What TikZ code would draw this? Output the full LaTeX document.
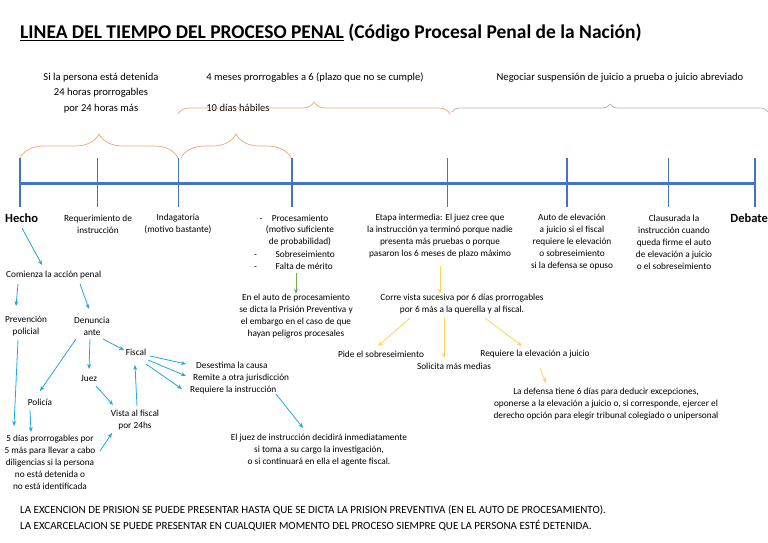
\documentclass[tikz,border=0pt]{standalone}
\usepackage{fontspec}
\setmainfont{Carlito}
\usetikzlibrary{decorations.pathreplacing,arrows.meta}
\definecolor{tl}{HTML}{4472C4}
\definecolor{ar}{HTML}{1FA7E0}
\definecolor{ob}{HTML}{F4A46E}
\definecolor{gb}{HTML}{B0B0B0}
\definecolor{yl}{HTML}{FFD25F}
\definecolor{gr}{HTML}{70AD47}
\tikzset{
 t/.style={font=\fontsize{9.3}{12}\selectfont, inner sep=0pt, align=center},
 tl7/.style={font=\fontsize{9.3}{12}\selectfont, inner sep=0pt, anchor=west},
 tophdr/.style={font=\fontsize{10.6}{15.5}\selectfont, inner sep=0pt, align=center},
 arw/.style={ar, line width=0.8pt, -{Stealth[length=5pt,width=4pt]}},
 yarw/.style={yl, line width=0.8pt, -{Stealth[length=5pt,width=4pt]}},
 garw/.style={gr, line width=0.8pt, -{Stealth[length=5pt,width=4pt]}},
 thick tick/.style={tl, line width=2pt},
 thin tick/.style={tl, line width=0.9pt},
 obrace/.style={ob, line width=0.7pt, decorate, decoration={brace, amplitude=#1}},
 gbrace/.style={gb, line width=0.7pt, decorate, decoration={brace, amplitude=8pt}},
}
\begin{document}
\begin{tikzpicture}[x=1pt,y=-1pt]
\useasboundingbox (0,0) rectangle (768,543);
\fill[white] (0,0) rectangle (768,543);
% title
\node[anchor=west, inner sep=0pt, font=\fontsize{19.5}{22}\selectfont\bfseries] (title) at (20,33) {\underline{LINEA DEL TIEMPO DEL PROCESO PENAL} (Código Procesal Penal de la Nación)};
% top labels
\node[tophdr] (h1) at (101,93) {Si la persona está detenida\\24 horas prorrogables\\por 24 horas más};
\node[tophdr] (h2) at (315,78) {4 meses prorrogables a 6 (plazo que no se cumple)};
\node[tophdr] (h3) at (620,78) {Negociar suspensión de juicio a prueba o juicio abreviado};
\node[tophdr] (h4) at (238,108) {10 días hábiles};
% braces
\draw[obrace=24pt] (20,158) -- (178,158);
\draw[obrace=24pt] (181,158) -- (291,158);
\draw[obrace=12pt] (178,114) -- (450,114);
\draw[gbrace] (452,112) -- (768,112);
% timeline
\draw[tl, line width=3pt] (20,183) -- (755,183);
\foreach \x in {20,292,567,755} \draw[thick tick] (\x,158) -- (\x,207);
\foreach \x in {97,178,447,668} \draw[thin tick] (\x,158) -- (\x,207);
% labels under timeline
\node[anchor=west, inner sep=0pt, font=\fontsize{12.5}{14}\selectfont\bfseries] (hecho) at (5,218) {Hecho};
\node[anchor=east, inner sep=0pt, font=\fontsize{12.5}{14}\selectfont\bfseries] (debate) at (768,218) {Debate};
\node[t] (req) at (98,224) {Requerimiento de\\instrucción};
\node[t] (inda) at (178,224) {Indagatoria\\(motivo bastante)};
\node[t] (p1) at (294,218) {-\quad Procesamiento};
\node[t] (p2) at (300,230) {(motivo suficiente};
\node[t] (p3) at (300,242) {de probabilidad)};
\node[tl7] (p4) at (254,254) {-\qquad Sobreseimiento};
\node[tl7] (p5) at (254,266) {-\qquad Falta de mérito};
\node[t] (etapa) at (440,236) {Etapa intermedia: El juez cree que\\la instrucción ya terminó porque nadie\\presenta más pruebas o porque\\pasaron los 6 meses de plazo máximo};
\node[t] (auto) at (572,242) {Auto de elevación\\a juicio si el fiscal\\requiere le elevación\\o sobreseimiento\\si la defensa se opuso};
\node[t] (claus) at (674,242) {Clausurada la\\instrucción cuando\\queda firme el auto\\de elevación a juicio\\o el sobreseimiento};
% procesamiento branch
\node[t] (prision) at (296,316) {En el auto de procesamiento\\se dicta la Prisión Preventiva y\\el embargo en el caso de que\\hayan peligros procesales};
\draw[garw] (p5.south -| 296,0) ++(0,4) -- (prision.north);
% etapa branch
\node[t] (corre) at (462,304) {Corre vista sucesiva por 6 días prorrogables\\por 6 más a la querella y al fiscal.};
\draw[yarw] (etapa.south -| 440,0) ++(0,8) -- (corre.north -| 440,0);
\node[t] (pide) at (381,354) {Pide el sobreseimiento};
\node[t] (solic) at (454,366) {Solicita más medias};
\node[t] (reqel) at (535,354) {Requiere la elevación a juicio};
\draw[yarw] (410,318) -- (378,346);
\draw[yarw] (444,318) -- (444,358);
\draw[yarw] (485,318) -- (522,346);
\node[t] (defensa) at (606,404) {La defensa tiene 6 días para deducir excepciones,\\oponerse a la elevación a juicio o, si corresponde, ejercer el\\derecho opción para elegir tribunal colegiado o unipersonal};
\draw[yarw] (540,368) -- (546,383);
% left tree
\node[anchor=west, t] (com) at (6,275) {Comienza la acción penal};
\draw[arw] (22,228) -- (42,265);
\node[t] (prev) at (26,326) {Prevención\\policial};
\node[t] (den) at (92,326) {Denuncia\\ante};
\draw[arw] (18,284) -- (16,306);
\draw[arw] (80,284) -- (89,309);
\node[t] (fiscal) at (136,352) {Fiscal};
\node[t] (juez) at (89,379) {Juez};
\node[t] (poli) at (40,402) {Policía};
\draw[arw] (103,339) -- (124,350);
\draw[arw] (90,339) -- (89,369);
\draw[arw] (76,339) -- (40,391);
\node[t] (cinco) at (50,462) {5 días prorrogables por\\5 más para llevar a cabo\\diligencias si la persona\\no está detenida o\\no está identificada};
\draw[arw] (18,340) -- (14,426);
\draw[arw] (30,410) -- (31,432);
\node[t] (vista) at (135,420) {Vista al fiscal\\por 24hs};
\draw[arw] (96,386) -- (113,405);
\draw[arw] (137,406) -- (135,365);
\draw[arw] (100,451) -- (112,433);
\node[tl7] (des) at (196,365) {Desestima la causa};
\node[tl7] (rem) at (193,378) {Remite a otra jurisdicción};
\node[tl7] (reqi) at (190,390) {Requiere la instrucción};
\draw[arw] (150,356) -- (186,364);
\draw[arw] (148,360) -- (186,376);
\draw[arw] (146,364) -- (182,389);
\node[t] (juezi) at (319,450) {El juez de instrucción decidirá inmediatamente\\si toma a su cargo la investigación,\\o si continuará en ella el agente fiscal.};
\draw[arw] (276,394) -- (303,428);
% bottom notes
\node[anchor=west, inner sep=0pt, font=\fontsize{11}{12}\selectfont] (n1) at (20,510) {LA EXCENCION DE PRISION SE PUEDE PRESENTAR HASTA QUE SE DICTA LA PRISION PREVENTIVA (EN EL AUTO DE PROCESAMIENTO).};
\node[anchor=west, inner sep=0pt, font=\fontsize{11}{12}\selectfont] (n2) at (20,526) {LA EXCARCELACION SE PUEDE PRESENTAR EN CUALQUIER MOMENTO DEL PROCESO SIEMPRE QUE LA PERSONA ESTÉ DETENIDA.};
\end{tikzpicture}
\end{document}
